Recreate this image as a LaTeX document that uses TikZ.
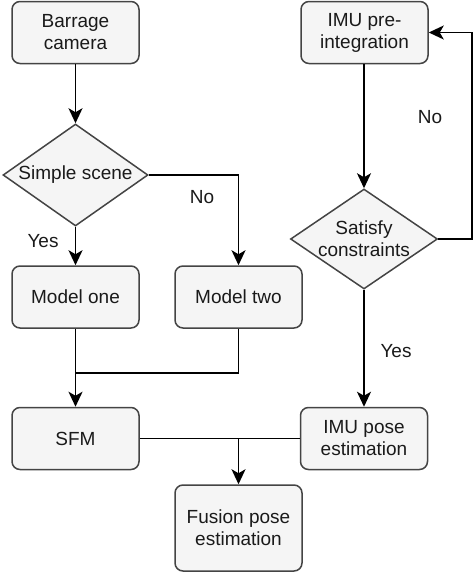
\documentclass[tikz,border=0pt]{standalone}
\usepackage{fontspec}
\setmainfont{Liberation Sans}
\usetikzlibrary{shapes.geometric,arrows.meta}
\definecolor{boxfill}{HTML}{F5F5F5}
\definecolor{boxline}{HTML}{444444}
\definecolor{txt}{HTML}{1A1A1A}
\tikzset{
  box/.style={draw=boxline, fill=boxfill, line width=1.5pt, rounded corners=8pt,
    minimum width=127pt, minimum height=62pt, inner sep=0pt, align=center,
    text=txt, font=\fontsize{19}{22}\selectfont},
  dec/.style={draw=boxline, fill=boxfill, line width=1.5pt, shape=diamond,
    inner sep=0pt, align=center, text=txt, font=\fontsize{19}{22}\selectfont},
  conn/.style={draw=black, line width=1.8pt},
  arr/.style={conn, -{Stealth[length=15pt, width=14pt, inset=4pt]}},
  lbl/.style={text=txt, font=\fontsize{19}{22}\selectfont, inner sep=0pt}
}
\begin{document}
\begin{tikzpicture}[x=1pt, y=-1pt]
\useasboundingbox (0,0) rectangle (474,573);
% nodes
\node[box] (bc) at (75.5,32.5) {Barrage\\camera};
\node[dec, minimum width=145pt, minimum height=102pt, aspect=1.42] (ss) at (75.5,175) {Simple scene};
\node[box] (mo) at (75.5,297) {Model one};
\node[box] (mt) at (238.5,297) {Model two};
\node[box] (sfm) at (75.5,438.5) {SFM};
\node[box] (ip) at (364.5,32.5) {IMU pre-\\integration};
\node[dec, minimum width=147pt, minimum height=100pt, aspect=1.47] (sc) at (364,239) {Satisfy\\constraints};
\node[box] (imp) at (364,438.5) {IMU pose\\estimation};
\node[box, minimum height=86pt] (fus) at (238.5,528) {Fusion pose\\estimation};
% coordinates
\coordinate (j1) at (75.5,373);
\coordinate (j2) at (238.5,438.5);
\coordinate (c1) at (472,32.5);
% connectors
\draw[arr] (bc.south) -- (ss.north);
\draw[arr] (ss.east) -| (mt.north);
\draw[arr] (ss.south) -- (mo.north);
\draw[arr] (mo.south) -- (sfm.north);
\draw[conn] (mt.south) |- (j1);
\draw[conn] (sfm.east) -- (imp.west);
\draw[arr] (j2) -- (fus.north);
\draw[arr] (ip.south -| sc.north) -- (sc.north);
\draw[arr] (sc.east) -| (c1) -- (ip.east);
\draw[arr] (sc.south) -- (imp.north);
% labels
\node[lbl] (l1) at (202,197) {No};
\node[lbl] (l2) at (43,241) {Yes};
\node[lbl] (l3) at (430,117) {No};
\node[lbl] (l4) at (396,351) {Yes};
\end{tikzpicture}
\end{document}
